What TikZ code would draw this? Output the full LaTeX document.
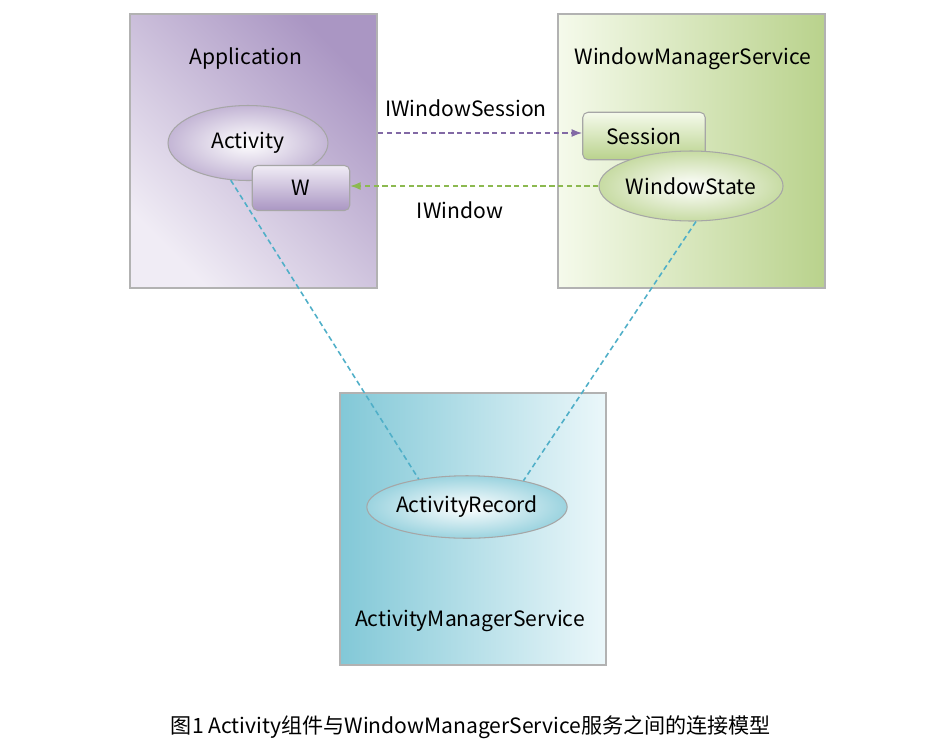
\documentclass[tikz,border=0pt]{standalone}
\usepackage{fontspec}
\setmainfont{Noto Sans CJK SC}
\usetikzlibrary{positioning}
\usetikzlibrary{arrows.meta}
\usetikzlibrary{shapes.geometric}
\definecolor{appdark}{RGB}{170,150,195}
\definecolor{applight}{RGB}{240,236,245}
\definecolor{wmsdark}{RGB}{185,210,140}
\definecolor{wmslight}{RGB}{245,250,235}
\definecolor{amsdark}{RGB}{130,200,215}
\definecolor{amslight}{RGB}{235,247,250}
\definecolor{linkblue}{RGB}{80,175,200}
\definecolor{linkpurple}{RGB}{130,105,165}
\definecolor{linkgreen}{RGB}{140,185,80}
\tikzset{
  proc/.style={draw=gray!60, line width=0.6pt},
  obj/.style={draw=gray!70, line width=0.6pt, font=\large, inner sep=0pt},
  link/.style={dashed, line width=0.9pt, dash pattern=on 3pt off 2pt},
}
\begin{document}
\begin{tikzpicture}[x=0.02cm, y=-0.02cm, font=\large]
\useasboundingbox (0,0) rectangle (943,741);
% Application process
\shade[proc, left color=appdark, right color=applight, shading angle=-45] (130,14) rectangle (377,288);
\node (app) at (246,59) {Application};
\node[obj, ellipse, minimum width=3.2cm, minimum height=1.5cm, inner color=white, outer color=appdark!70] (activity) at (248,143) {Activity};
\node[obj, rounded corners=3pt, minimum width=1.95cm, minimum height=0.9cm, top color=applight, bottom color=appdark] (w) at (301,188) {W};
% WindowManagerService process
\shade[proc, left color=wmslight, right color=wmsdark] (558,14) rectangle (825,288);
\node (wms) at (693,59) {WindowManagerService};
\node[obj, rounded corners=3pt, minimum width=2.45cm, minimum height=0.95cm, top color=wmslight, bottom color=wmsdark] (session) at (644,136) {Session};
\node[obj, ellipse, minimum width=3.6cm, minimum height=1.4cm, inner color=white, outer color=wmsdark!80] (wstate) at (691,186) {WindowState};
% ActivityManagerService process
\shade[proc, left color=amsdark, right color=amslight] (340,393) rectangle (606,665);
\node (ams) at (470,621) {ActivityManagerService};
\node[obj, ellipse, minimum width=3.95cm, minimum height=1.25cm, inner color=white, outer color=amsdark!80] (record) at (467,507) {ActivityRecord};
% connections
\coordinate (s0) at (378,133);
\coordinate (s1) at (350,186);
\draw[link, linkpurple, -{Latex[length=6pt]}] (s0) -- (session.west |- s0);
\node (iws) at (466,108) {IWindowSession};
\draw[link, linkgreen, -{Latex[length=6pt]}] (wstate.west) -- (s1);
\node (iw) at (460,210) {IWindow};
\draw[link, linkblue] (activity.-115) -- (record.150);
\draw[link, linkblue] (wstate.-82) -- (record.25);
% caption
\node (caption) at (471,727) {图1 Activity组件与WindowManagerService服务之间的连接模型};
\end{tikzpicture}
\end{document}
